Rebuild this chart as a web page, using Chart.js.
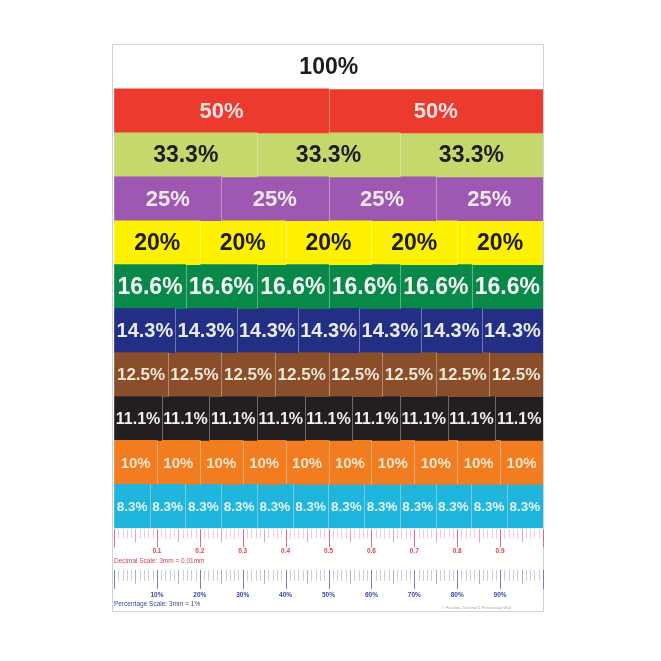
<!DOCTYPE html>
<html lang="en">
<head>
<meta charset="UTF-8">
<title>Fraction, Decimal and Percentage Wall</title>
<script src="https://cdn.jsdelivr.net/npm/chart.js"></script>
<style>
  body { margin: 0; background: #fff; }
  canvas { display: block; }
</style>
</head>
<body>
<canvas id="wallChart" width="661" height="661"></canvas>
<script>
// one row per fraction: label printed on each piece, how many pieces, width of one piece (%)
const rowLabels = ['100%', '50%', '33.3%', '25%', '20%', '16.6%', '14.3%', '12.5%', '11.1%', '10%', '8.3%'];
const pieceCounts = [1, 2, 3, 4, 5, 6, 7, 8, 9, 10, 12];
const pieceShares = [100, 50, 33.33, 25, 20, 16.67, 14.29, 12.5, 11.11, 10, 8.33];

// ruler labels under the wall
const decimalLabels = ['0.1', '0.2', '0.3', '0.4', '0.5', '0.6', '0.7', '0.8', '0.9'];
const percentLabels = ['10%', '20%', '30%', '40%', '50%', '60%', '70%', '80%', '90%'];

const rowColors = ['#ffffff', '#ec3a2f', '#c4d86c', '#9e58b1', '#fff200', '#08894a',
                   '#232f84', '#8a4e2b', '#231f20', '#f27c20', '#1fb5dc'];
const rowTextColors = ['#1c1c1c', '#fde2de', '#1c1c1c', '#f4eaf6', '#1c1c1c', '#f2f8f3',
                       '#e9ebf5', '#f4e7da', '#f0f0f0', '#fde5cc', '#e3f4fa'];
const rowFontSizes = [23, 22, 23, 22, 23, 23, 20, 17, 16, 15, 13.5];

const FONT = '"Liberation Sans", Arial, sans-serif';

// a dataset per piece position, stacked left to right
const maxPieces = Math.max(...pieceCounts);
const datasets = [];
for (let k = 0; k < maxPieces; k++) {
    datasets.push({
        data: pieceShares.map((s, r) => (k < pieceCounts[r] ? s : null)),
        backgroundColor: rowColors,
        borderWidth: 0,
        barPercentage: 1,
        categoryPercentage: 1
    });
}

// white sheet with a light grey edge
const paper = {
    id: 'paper',
    beforeDraw(chart) {
        const { ctx, chartArea } = chart;
        const bottom = chart.height - 49;
        ctx.save();
        ctx.fillStyle = '#fff';
        ctx.fillRect(0, 0, chart.width, chart.height);
        ctx.strokeStyle = '#d2d2d2';
        ctx.lineWidth = 1;
        ctx.strokeRect(Math.round(chartArea.left) - 1.5, Math.round(chartArea.top) - 0.5,
                       Math.round(chartArea.right - chartArea.left) + 2, bottom - chartArea.top);
        ctx.restore();
    }
};

// dividers and the percentage written on every piece
const pieceLabels = {
    id: 'pieceLabels',
    afterDatasetsDraw(chart) {
        const ctx = chart.ctx;
        ctx.save();
        chart.data.datasets.forEach((ds, k) => {
            if (k === 0) return;
            chart.getDatasetMeta(k).data.forEach((bar, r) => {
                if (ds.data[r] == null) return;
                ctx.fillStyle = 'rgba(255,255,255,0.35)';
                ctx.fillRect(Math.round(bar.base), bar.y - bar.height / 2, 1, bar.height);
            });
        });
        ctx.textAlign = 'center';
        ctx.textBaseline = 'middle';
        chart.data.datasets.forEach((ds, k) => {
            chart.getDatasetMeta(k).data.forEach((bar, r) => {
                if (ds.data[r] == null) return;
                ctx.fillStyle = rowTextColors[r];
                ctx.font = 'bold ' + rowFontSizes[r] + 'px ' + FONT;
                ctx.fillText(rowLabels[r], (bar.x + bar.base) / 2, bar.y + 1);
            });
        });
        ctx.restore();
    }
};

// ruler graduations along both bottom axes
const rulerMarks = {
    id: 'rulerMarks',
    afterDraw(chart) {
        const ctx = chart.ctx;
        const dec = chart.scales.x;
        const pct = chart.scales.x2;
        ctx.save();
        ctx.lineWidth = 1;
        for (let i = 0; i <= 100; i++) {
            const major = i % 10 === 0;
            const mid = i % 5 === 0;
            const px = Math.round(dec.getPixelForValue(i)) + 0.5;

            ctx.strokeStyle = major ? '#e56872' : mid ? '#f0a0a8' : '#f6c9cd';
            ctx.beginPath();
            ctx.moveTo(px, dec.top + 1);
            ctx.lineTo(px, dec.top + (major ? 19 : mid ? 14 : 10));
            ctx.stroke();

            ctx.strokeStyle = major ? '#7680b4' : mid ? '#aab0ca' : '#cbcedb';
            ctx.beginPath();
            ctx.moveTo(px, pct.top + 5);
            ctx.lineTo(px, pct.top + (major ? 24 : mid ? 19 : 16));
            ctx.stroke();
        }
        // small print in the corner
        ctx.fillStyle = '#a8a8a8';
        ctx.font = '4px ' + FONT;
        ctx.textAlign = 'right';
        ctx.textBaseline = 'middle';
        ctx.fillText('© Fraction, Decimal & Percentage Wall', dec.right - 32, chart.height - 53);
        ctx.restore();
    }
};

const scaleFont = { family: FONT, size: 6.5, weight: 'bold' };

// invisible tick marks only reserve room for the ruler graduations
const rulerGrid = (len) => ({
    display: true, drawOnChartArea: false, drawTicks: true,
    tickLength: len, tickColor: 'rgba(0,0,0,0)'
});

new Chart(document.getElementById('wallChart'), {
    type: 'bar',
    data: { labels: rowLabels, datasets: datasets },
    options: {
        indexAxis: 'y',
        responsive: false,
        animation: false,
        layout: { padding: { left: 114, right: 118, top: 45, bottom: 53 } },
        plugins: { legend: { display: false }, tooltip: { enabled: false } },
        scales: {
            y: { display: false, stacked: true },
            x: {
                type: 'linear', min: 0, max: 100, stacked: true,
                position: 'bottom', weight: 0,
                grid: rulerGrid(19),
                border: { display: false },
                ticks: {
                    stepSize: 10, autoSkip: false, maxRotation: 0, padding: 0,
                    color: '#e0404c', font: scaleFont,
                    callback: v => decimalLabels[v / 10 - 1] || ''
                },
                title: {
                    display: true, text: 'Decimal Scale: 3mm = 0.01mm', align: 'start',
                    color: '#e0404c', font: { family: FONT, size: 6.5 },
                    padding: { top: 2, bottom: 0 }
                }
            },
            x2: {
                type: 'linear', min: 0, max: 100,
                position: 'bottom', weight: 1,
                grid: rulerGrid(26),
                border: { display: false },
                ticks: {
                    stepSize: 10, autoSkip: false, maxRotation: 0, padding: 0,
                    color: '#3b4aa0', font: scaleFont,
                    callback: v => percentLabels[v / 10 - 1] || ''
                },
                title: {
                    display: true, text: 'Percentage Scale: 3mm = 1%', align: 'start',
                    color: '#3b4aa0', font: { family: FONT, size: 6.5 },
                    padding: { top: 1.5, bottom: 0 }
                }
            }
        }
    },
    plugins: [paper, pieceLabels, rulerMarks]
});
</script>
</body>
</html>
